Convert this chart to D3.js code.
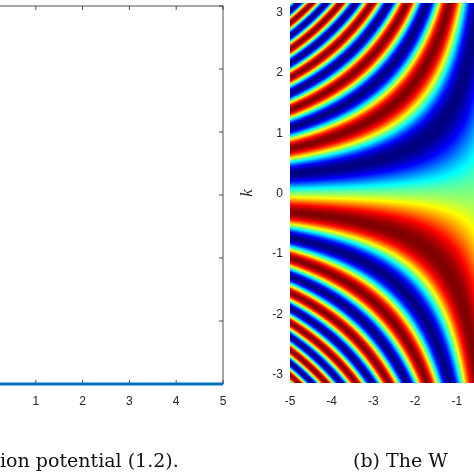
<!DOCTYPE html>
<html><head><meta charset="utf-8">
<script src="https://cdn.jsdelivr.net/npm/d3@7"></script>
<style>body{margin:0;background:#fff}svg{position:absolute;left:0;top:0}canvas{position:absolute}</style>
</head><body>
<canvas id="hm"></canvas>
<svg id="s" width="474" height="474"></svg>
<script>
// Left panel (a): potential, flat at zero over x in [0,5]
const potX = [0, 1, 2, 3, 4, 5];
const potV = [0, 0, 0, 0, 0, 0];
const leftXTicks = [1, 2, 3, 4, 5];
const leftYTicks = [0, 1, 2, 3, 4, 5, 6];
// Right panel (b): Wigner function, fringe phase
const wX = [-5, -4, -3, -2, -1, 0];
const wK = [-Math.PI, Math.PI];
const rightXTicks = [-5, -4, -3, -2, -1];
const rightYTicks = [-3, -2, -1, 0, 1, 2, 3];
const fringeLinear = 0.5;     // phase slope near k = 0
const fringeCurve = 0.38;     // extra phase growth
const fringeExponent = 0.55;
const captionA = "ion potential (1.2).";
const captionB = "(b) The W";

const svg = d3.select("#s");
const tickFont = "Helvetica, Arial, 'Liberation Sans', sans-serif";

// ---- left panel
const lx = d3.scaleLinear().domain([0,5]).range([-11,223]);
const ly = d3.scaleLinear().domain([0,6]).range([384,6]);
const gl = svg.append("g");
gl.append("rect").attr("x",lx(0)).attr("y",ly(6)).attr("width",lx(5)-lx(0)).attr("height",ly(0)-ly(6))
  .attr("fill","none").attr("stroke","#262626").attr("stroke-width",0.8);
leftXTicks.forEach(t=>{
  gl.append("line").attr("x1",lx(t)).attr("x2",lx(t)).attr("y1",ly(0)).attr("y2",ly(0)-4).attr("stroke","#262626").attr("stroke-width",0.8);
  gl.append("line").attr("x1",lx(t)).attr("x2",lx(t)).attr("y1",ly(6)).attr("y2",ly(6)+4).attr("stroke","#262626").attr("stroke-width",0.8);
  gl.append("text").attr("x",lx(t)).attr("y",405).attr("text-anchor","middle").attr("font-family",tickFont).attr("font-size",12).attr("fill","#262626").text(t);
});
leftYTicks.forEach(t=>{
  gl.append("line").attr("x1",lx(5)).attr("x2",lx(5)-4).attr("y1",ly(t)).attr("y2",ly(t)).attr("stroke","#262626").attr("stroke-width",0.8);
});
gl.append("path").datum(potX.map((x,i)=>[x,potV[i]]))
  .attr("d",d3.line().x(d=>lx(d[0])).y(d=>ly(d[1])))
  .attr("fill","none").attr("stroke","#0072BD").attr("stroke-width",3);

// ---- right panel heatmap
const rx = d3.scaleLinear().domain([wX[0], wX[wX.length-1]]).range([290, 290+5*41.7]);
const ry = d3.scaleLinear().domain(wK).range([383, 3]);
function jet(v){
  const r = Math.min(Math.max(Math.min(4*v-1.5, -4*v+4.5),0),1);
  const g = Math.min(Math.max(Math.min(4*v-0.5, -4*v+3.5),0),1);
  const b = Math.min(Math.max(Math.min(4*v+0.5, -4*v+2.5),0),1);
  return [r*255,g*255,b*255];
}
const x0 = Math.round(rx(-5)), x1 = 474, y0 = Math.round(ry(Math.PI)), y1 = Math.round(ry(-Math.PI));
const cv = document.getElementById("hm");
cv.width = x1-x0; cv.height = y1-y0;
cv.style.left = x0+"px"; cv.style.top = y0+"px";
const ctx = cv.getContext("2d");
const img = ctx.createImageData(cv.width, cv.height);
for(let j=0;j<cv.height;j++){
  const k = ry.invert(y0+j+0.5);
  for(let i=0;i<cv.width;i++){
    const x = rx.invert(x0+i+0.5);
    const p = Math.abs(x*k);
    const phi = p*(fringeLinear + fringeCurve*Math.pow(p, fringeExponent));
    const w = -Math.sign(k)*Math.sin(phi);
    const c = jet((w+1)/2);
    const o = 4*(j*cv.width+i);
    img.data[o]=c[0];img.data[o+1]=c[1];img.data[o+2]=c[2];img.data[o+3]=255;
  }
}
ctx.putImageData(img,0,0);

const gr = svg.append("g");
rightXTicks.forEach(t=>{
  gr.append("text").attr("x",rx(t)).attr("y",405).attr("text-anchor","middle").attr("font-family",tickFont).attr("font-size",12).attr("fill","#262626").text(t);
});
rightYTicks.forEach(t=>{
  gr.append("text").attr("x",283).attr("y",ry(t)+4).attr("text-anchor","end").attr("font-family",tickFont).attr("font-size",12).attr("fill","#262626").text(t);
});
gr.append("text").attr("transform",`translate(252,${ry(0)}) rotate(-90)`).attr("text-anchor","middle")
  .attr("font-family","'Liberation Serif', serif").attr("font-style","italic").attr("font-size",17).attr("fill","#262626").text("k");

svg.append("text").attr("x",0).attr("y",467).attr("font-family","'DejaVu Serif', serif").attr("font-size",19).attr("fill","#111").text(captionA);
svg.append("text").attr("x",353).attr("y",467).attr("font-family","'DejaVu Serif', serif").attr("font-size",19).attr("fill","#111").text(captionB);
</script>
</body></html>
